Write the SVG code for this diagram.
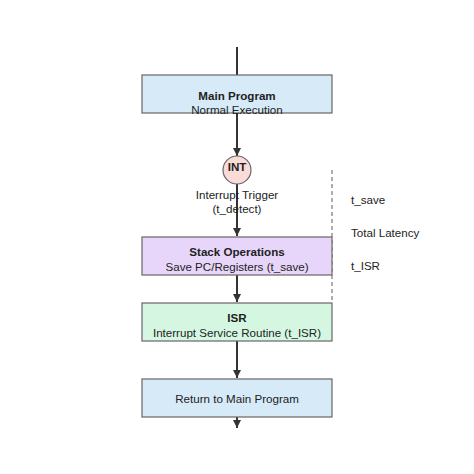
<svg xmlns="http://www.w3.org/2000/svg" width="474" height="474" viewBox="0 0 474 474">
<defs>
<marker id="ah" viewBox="0 0 10 10" refX="10" refY="5" markerWidth="8" markerHeight="8" markerUnits="userSpaceOnUse" orient="auto">
<path d="M0,0 L10,5 L0,10 z" fill="#333"/>
</marker>
<style>
.box{stroke:#666;stroke-width:1.2}
.t{font-family:"Liberation Sans",Arial,sans-serif;font-size:11.6px;fill:#222;text-anchor:middle}
.b{font-weight:bold}
.l{font-family:"Liberation Sans",Arial,sans-serif;font-size:11.6px;fill:#222}
.c{stroke:#333;stroke-width:2;fill:none}
</style>
</defs>
<rect width="474" height="474" fill="#fff"/>
<g id="connectors">
<line class="c" x1="237" y1="47" x2="237" y2="75"/>
<line class="c" x1="237" y1="113" x2="237" y2="156" marker-end="url(#ah)"/>
<line class="c" x1="237" y1="184" x2="237" y2="236" marker-end="url(#ah)"/>
<line class="c" x1="237" y1="275" x2="237" y2="302" marker-end="url(#ah)"/>
<line class="c" x1="237" y1="341" x2="237" y2="378" marker-end="url(#ah)"/>
<line class="c" x1="237" y1="417" x2="237" y2="428" marker-end="url(#ah)"/>
<line x1="332" y1="170" x2="332" y2="300" stroke="#777" stroke-width="1.2" stroke-dasharray="4,3"/>
</g>
<g id="main">
<rect class="box" x="142" y="75" width="190" height="38" fill="#d6eaf8"/>
<text class="t b" x="237" y="100">Main Program</text>
<text class="t" x="237" y="114">Normal Execution</text>
</g>
<g id="int">
<circle class="box" cx="237" cy="170" r="14" fill="#fadbd8"/>
<text class="t b" x="237" y="171">INT</text>
<text class="t" x="237" y="199">Interrupt Trigger</text>
<text class="t" x="237" y="213">(t_detect)</text>
</g>
<g id="stack">
<rect class="box" x="142" y="237" width="190" height="38" fill="#e8d6fa"/>
<text class="t b" x="237" y="256">Stack Operations</text>
<text class="t" x="237" y="271">Save PC/Registers (t_save)</text>
</g>
<g id="isr">
<rect class="box" x="142" y="303" width="190" height="38" fill="#d5f7e2"/>
<text class="t b" x="237" y="322">ISR</text>
<text class="t" x="237" y="337">Interrupt Service Routine (t_ISR)</text>
</g>
<g id="ret">
<rect class="box" x="142" y="379" width="190" height="38" fill="#d6eaf8"/>
<text class="t" x="237" y="403">Return to Main Program</text>
</g>
<g id="labels">
<text class="l" x="351" y="204">t_save</text>
<text class="l" x="351" y="237">Total Latency</text>
<text class="l" x="351" y="270">t_ISR</text>
</g>
</svg>
